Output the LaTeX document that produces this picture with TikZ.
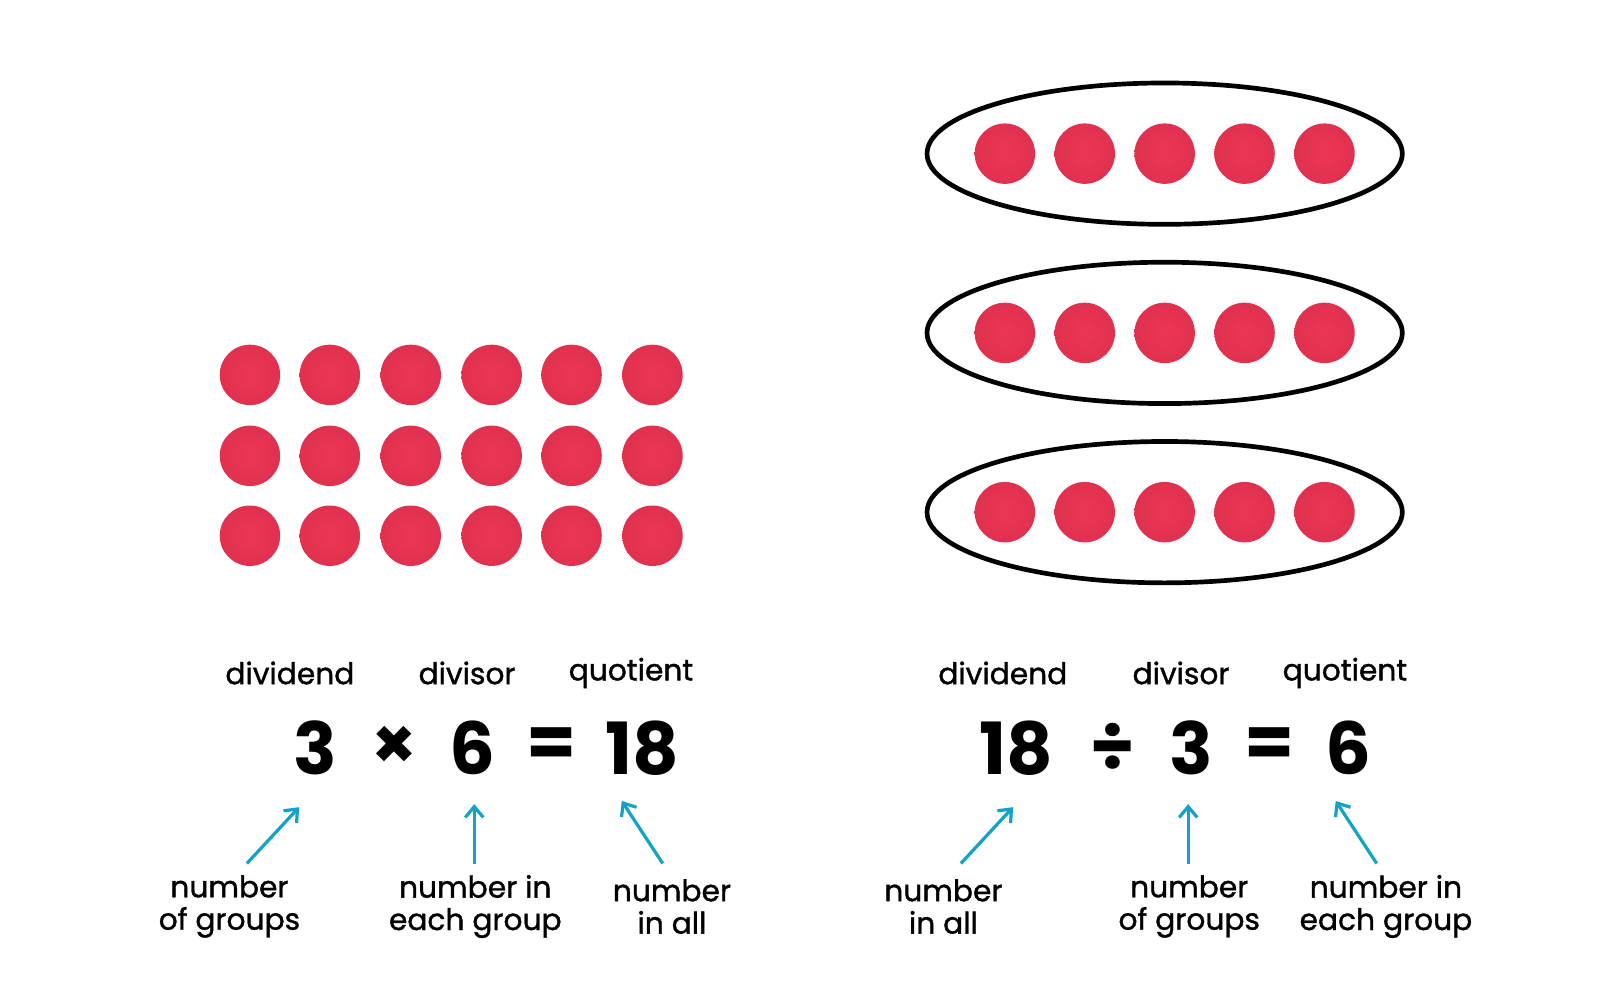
\documentclass[tikz,border=0pt]{standalone}
\usepackage{fontspec}
\setmainfont{Poppins}
\newfontfamily\labelfont{Poppins}[FakeBold=1.2]
\usetikzlibrary{arrows.meta}
\definecolor{dotred}{HTML}{EE3656}
\definecolor{dotdark}{HTML}{8E1428}
\definecolor{arrowblue}{HTML}{14A3C7}
\tikzset{
  counter/.style={circle, minimum size=1.18cm, inner sep=0pt, shading=radial, inner color=dotred, outer color=dotred!85!dotdark},
  heading/.style={font=\labelfont\fontsize{16.5}{19}\selectfont},
  sym/.style={font=\fontsize{40}{42}\selectfont\bfseries},
  note/.style={font=\labelfont\fontsize{16.5}{18}\selectfont, align=center},
  pointer/.style={arrowblue, line width=1.8pt, -{Straight Barb[length=6pt,width=10pt]}}
}
\begin{document}
\begin{tikzpicture}[x=0.02cm, y=-0.02cm]
\useasboundingbox (0,0) rectangle (1562,976);
% multiplication array
\foreach \r/\y in {1/366,2/445,3/523}
  \foreach \c/\x in {1/244,2/322,3/401,4/480,5/558,6/637}
    \node[counter] (m\r\c) at (\x,\y) {};
% division groups
\foreach \g/\y in {1/150,2/325,3/500} {
  \draw[line width=2.6pt] (1137,\y) ellipse (232 and 69);
  \foreach \c/\x in {1/981,2/1059,3/1137,4/1215,5/1293}
    \node[counter] (d\g\c) at (\x,\y) {};
}
% left equation
\node[heading] (ldividend) at (283,657) {dividend};
\node[heading] (ldivisor) at (456,657) {divisor};
\node[heading] (lquotient) at (616,657) {quotient};
\node[sym] (lthree) at (308,730) {3};
\node[sym] (ltimes) at (385,730) {×};
\node[sym] (lsix) at (461,730) {6};
\node[sym] (leq) at (538,730) {=};
\node[sym] (leighteen) at (627,730) {18};
\node[note] (lgroups) at (224,885) {number\\of groups};
\node[note] (leach) at (464,885) {number in\\each group};
\node[note] (lall) at (656,885) {number\\in all};
\coordinate (la) at (292,788); \coordinate (lb) at (463,785); \coordinate (lc) at (607,782);
\draw[pointer] (241,843) -- (la);
\draw[pointer] (463,843) -- (lb);
\draw[pointer] (647,843) -- (lc);
% right equation
\node[heading] (rdividend) at (979,657) {dividend};
\node[heading] (rdivisor) at (1153,657) {divisor};
\node[heading] (rquotient) at (1313,657) {quotient};
\node[sym] (reighteen) at (992,730) {18};
\node[sym] (rdiv) at (1086,730) {÷};
\node[sym] (rthree) at (1163,730) {3};
\node[sym] (req) at (1239,730) {=};
\node[sym] (rsix) at (1316,730) {6};
\node[note] (rall) at (921,885) {number\\in all};
\node[note] (rgroups) at (1161,885) {number\\of groups};
\node[note] (reach) at (1353,885) {number in\\each group};
\coordinate (ra) at (989,788); \coordinate (rb) at (1160,785); \coordinate (rc) at (1304,782);
\draw[pointer] (938,843) -- (ra);
\draw[pointer] (1160,843) -- (rb);
\draw[pointer] (1344,843) -- (rc);
\end{tikzpicture}
\end{document}
